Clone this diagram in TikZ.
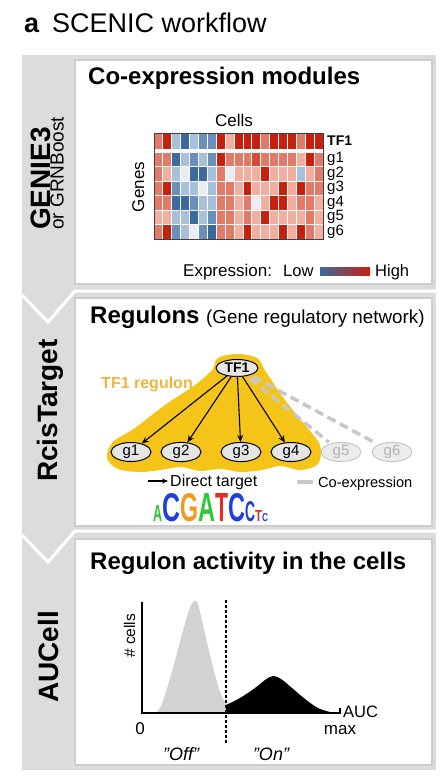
\documentclass[tikz,border=0pt]{standalone}
\usepackage{fontspec}
\setmainfont{Liberation Sans}
\usepackage{graphicx}
\usetikzlibrary{arrows.meta,shapes.geometric}

\definecolor{panelgray}{HTML}{DCDCDC}
\definecolor{boxline}{HTML}{CDCDCD}
\definecolor{hmD}{HTML}{C8200F}
\definecolor{hmR}{HTML}{D84634}
\definecolor{hmr}{HTML}{E27A6A}
\definecolor{hmp}{HTML}{F2AE9F}
\definecolor{hmw}{HTML}{E8EDF3}
\definecolor{hml}{HTML}{A8C0DA}
\definecolor{hmb}{HTML}{6990BA}
\definecolor{hmB}{HTML}{3B6A9E}
\definecolor{regulon}{HTML}{F4C419}
\definecolor{regtext}{HTML}{EFB53F}
\definecolor{coexp}{HTML}{C8C8C8}
\definecolor{offgray}{HTML}{D2D2D2}
\definecolor{logoA}{HTML}{2FC63A}
\definecolor{logoC}{HTML}{1E3FE0}
\definecolor{logoG}{HTML}{F39A1E}
\definecolor{logoT}{HTML}{E82A20}

\newcommand{\fsz}[1]{\fontsize{#1}{#1}\selectfont}

\begin{document}
\begin{tikzpicture}[x=1pt, y=-1pt,
    every node/.append style={inner sep=0pt},
    gene/.style={ellipse, draw=black, line width=1pt, fill=gray!20, minimum width=40pt, minimum height=17pt, font=\fsz{15}},
    lostgene/.style={gene, draw=gray!45, fill=gray!15, text=gray!60},
    directarrow/.style={-{Stealth[length=7pt,width=6pt]}, line width=1.1pt},
    coexpr/.style={draw=coexp, line width=3.5pt, dash pattern=on 9pt off 5pt},
    striplabel/.style={rotate=90, anchor=base west, font=\fsz{28}\bfseries},
    paneltitle/.style={anchor=base west, font=\fsz{24}\bfseries},
    innerbox/.style={fill=white, draw=boxline, line width=1.5pt},
    gapline/.style={draw=white, line width=3pt}]

\useasboundingbox (0,0) rectangle (442,781);

% header
\node[anchor=base west, font=\fsz{27}\bfseries] (panela) at (24,33) {a};
\node[anchor=base west, font=\fsz{27}] (wftitle) at (52,33) {SCENIC workflow};

% panels
\fill[panelgray] (22,55) rectangle (436,770);
\draw[gapline] (22,295) -- (48,322) -- (75,291) -- (436,291);
\draw[gapline] (22,535) -- (48,562) -- (75,531) -- (436,531);
\draw[innerbox] (75,60) rectangle (432,284);
\draw[innerbox] (75,298) rectangle (432,526);
\draw[innerbox] (75,539) rectangle (432,765);

\node[striplabel] (genie) at (50,230) {GENIE3};
\node[rotate=90, anchor=base west, font=\fsz{19}] (grnb) at (63.5,230) {or GRNBoost};
\node[striplabel] (rcis) at (57,482) {RcisTarget};
\node[striplabel] (aucell) at (58,703) {AUCell};

\node[paneltitle] (title1) at (88,85) {Co-expression modules};
\node[paneltitle] (title2) at (90,323) {Regulons {\fsz{18.8}\mdseries (Gene regulatory network)}};
\node[paneltitle] (title3) at (90,569) {Regulon activity in the cells};

% heatmap
\foreach \rowvals [count=\ri] in {
  {r,D,l,B,l,b,b,D,p,D,D,D,r,D,D,D,r,D,D},
  {r,r,B,l,b,l,b,D,r,r,r,R,r,r,r,r,p,D,r},
  {r,p,l,w,B,B,l,r,w,p,p,p,D,p,p,p,l,p,r},
  {r,D,b,l,l,w,l,r,r,p,D,p,p,p,D,p,D,r,r},
  {r,r,B,B,b,l,l,r,r,p,r,w,p,D,D,p,r,r,p},
  {p,p,l,l,B,l,b,r,r,p,r,p,D,p,p,p,p,r,p},
  {r,D,b,l,w,b,B,r,r,p,D,p,p,p,D,p,D,r,p}}{
  \pgfmathsetmacro\ry{\ri==1 ? 133 : 152+(\ri-2)*14.5}
  \pgfmathsetmacro\rh{\ri==1 ? 16 : 14.5}
  \foreach \c [count=\ci from 0] in \rowvals
    \filldraw[fill=hm\c, draw=white, line width=0.9pt] (154+\ci*8.9,\ry) rectangle ++(8.9,\rh);
}
\draw[black!75, line width=0.8pt] (154,133) rectangle (323.1,239);

\node[anchor=base, font=\fsz{17}] (cells) at (234,127) {Cells};
\node[rotate=90, anchor=base, font=\fsz{17}] (genes) at (144,187) {Genes};
\node[anchor=west, font=\fsz{14}\bfseries] (tfrow) at (327,141) {TF1};
\foreach \g [count=\k from 0] in {1,...,6}
  \node[anchor=west, font=\fsz{15}] (row\g) at (327,159+\k*14.5) {g\g};

\node[anchor=base west, font=\fsz{17}] (exprlab) at (183,276) {Expression:};
\node[anchor=base west, font=\fsz{16.5}] (lowlab) at (283,276) {Low};
\node[left color=hmB, middle color=white, right color=hmD, minimum width=50pt, minimum height=8pt] (exprbar) at (345,271) {};
\node[anchor=base west, font=\fsz{16.5}] (highlab) at (375,276) {High};

% regulon
\fill[regulon] plot[smooth cycle, tension=0.55] coordinates {(237,354) (257,358) (266,372) (285,400) (305,425) (320,445) (318,464) (300,470) (281,466) (262,470) (241,472) (220,469) (200,471) (181,467) (160,470) (140,472) (118,469) (107,458) (113,442) (135,428) (165,405) (195,385) (212,370) (218,358)};
\node[font=\fsz{16}\bfseries, text=regtext] (reglab) at (147,384) {TF1 regulon};

\node[gene, font=\fsz{14}\bfseries, minimum width=42pt] (tf) at (237,368) {TF1};
\node[gene] (g1) at (131,452) {g1};
\node[gene] (g2) at (181,452) {g2};
\node[gene] (g3) at (241,452) {g3};
\node[gene] (g4) at (291,452) {g4};
\node[lostgene] (g5) at (341,452) {g5};
\node[lostgene] (g6) at (392,452) {g6};

\foreach \g in {g1,g2,g3,g4}
  \draw[directarrow] (tf) -- (\g);
\foreach \g in {g5,g6}
  \draw[coexpr, shorten <=4pt, shorten >=2pt] (tf) -- (\g);

% legend
\coordinate (dtA) at (148,481);
\coordinate (dtB) at (168,481);
\draw[-{Stealth[length=6pt,width=5pt]}, line width=1.1pt] (dtA) -- (dtB);
\node[anchor=base west, font=\fsz{16}] (dtlab) at (170,486) {Direct target};
\coordinate (ceA) at (297,482);
\coordinate (ceB) at (313,482);
\draw[draw=coexp, line width=4pt] (ceA) -- (ceB);
\node[anchor=base west, font=\fsz{14.6}] (celab) at (318,487) {Co-expression};

% motif logo
\foreach \lx/\lw/\lh/\lc/\ll [count=\n] in {153/9/16/logoA/A, 162/18/28/logoC/C, 180/18/28/logoG/G, 198/17/28/logoA/A, 215/13/28/logoT/T, 228/17/28/logoC/C, 245/10/20/logoC/C, 255/7/11/logoT/T, 262/6/8/logoC/C}
  \node[anchor=south west, text=\lc, font=\bfseries] (logo\n) at (\lx,522) {\resizebox{\lw pt}{\lh pt}{\ll}};

% AUC histogram
\fill[offgray] plot[smooth, tension=0.45] coordinates {(156,713) (162,704) (171,675) (181,638) (189,610) (194,601) (198,604) (205,634) (213,667) (220,692) (226,704)} -- (226,713) -- cycle;
\fill[black] plot[smooth, tension=0.6] coordinates {(226,705) (240,698) (255,688) (265,680) (273,676) (281,679) (292,688) (305,699) (318,708) (330,712)} -- (226,713) -- cycle;

\coordinate (ytop) at (142,602);
\coordinate (orig) at (142,713);
\coordinate (xend) at (340,713);
\coordinate (xtick) at (340,708);
\draw[line width=1.2pt] (ytop) -- (orig) -- (xend) -- (xtick);
\coordinate (thrtop) at (226,600);
\coordinate (thrbot) at (226,743);
\draw[line width=2pt, dash pattern=on 2.5pt off 2.5pt] (thrtop) -- (thrbot);

\node[anchor=base, font=\fsz{17}] (zero) at (140,734) {0};
\node[anchor=base, font=\fsz{17}] (maxlab) at (340,734) {max};
\node[anchor=base west, font=\fsz{16.5}] (auclab) at (343,717) {AUC};
\node[rotate=90, anchor=base west, font=\fsz{15.5}] (ncells) at (135,658) {\# cells};
\node[anchor=base, font=\fsz{18}\itshape] (offlab) at (181,760) {"Off"};
\node[anchor=base, font=\fsz{18}\itshape] (onlab) at (271,760) {"On"};
\end{tikzpicture}
\end{document}
